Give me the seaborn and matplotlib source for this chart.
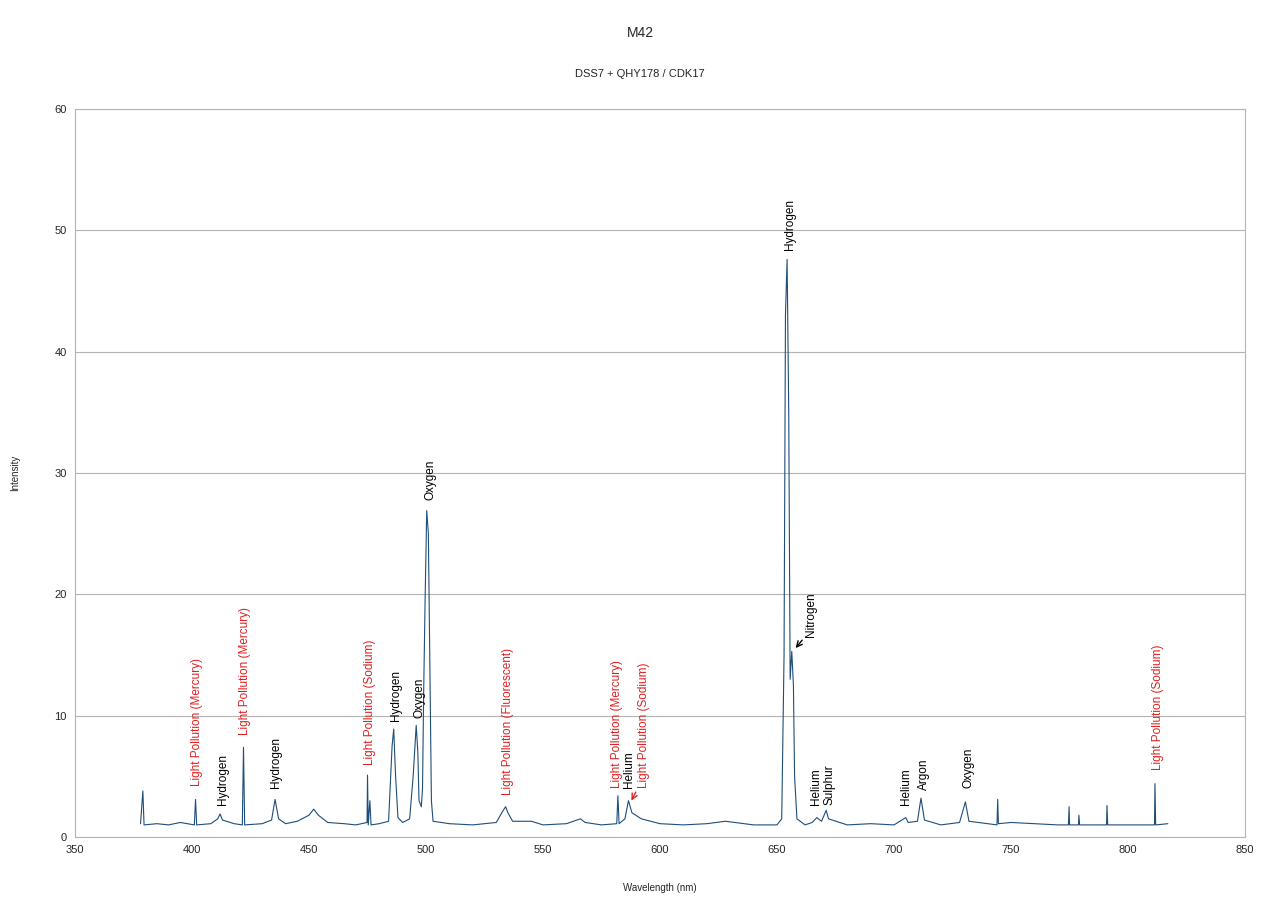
import numpy as np
import pandas as pd
import seaborn as sns
import matplotlib.pyplot as plt

sns.set_style("white")
plt.rcParams['font.family'] = ['Liberation Sans', 'DejaVu Sans']

# spectrum (wavelength nm, intensity)
wavelength = [378, 379, 379.5, 385, 390, 395, 401, 401.5, 402, 408, 411, 412, 413, 418, 421.5, 422, 422.5,
              430, 434, 435.5, 437, 440, 445, 450, 452, 454, 458, 465, 470, 474.8, 475, 475.3, 476, 476.5,
              480, 484, 485.5, 486.2, 487, 488, 490, 493, 494.5, 495.8, 496.5, 497, 498, 498.5, 499, 499.6,
              500.3, 501, 501.6, 502.3, 503, 510, 520, 530, 533, 534, 535, 537, 545, 550, 560, 566, 568,
              575, 581.5, 582, 582.5, 585, 586.5, 588, 592, 600, 610, 620, 628, 640, 650, 652, 653, 653.6,
              654.3, 655, 655.6, 656.3, 657, 657.5, 658.5, 662, 665, 667, 669, 671, 672, 680, 690, 700,
              705, 706, 710, 711.5, 713, 720, 728, 730.5, 732, 740, 744, 744.3, 744.6, 750, 760, 770,
              774.5, 774.8, 775, 778.8, 779, 779.3, 790.8, 791, 791.3, 800, 811.3, 811.5, 811.8, 817]
intensity = [1.1, 3.8, 1.0, 1.1, 1.0, 1.2, 1.0, 3.1, 1.0, 1.1, 1.5, 1.9, 1.4, 1.1, 1.0, 7.4, 1.0,
             1.1, 1.4, 3.1, 1.5, 1.1, 1.3, 1.8, 2.3, 1.8, 1.2, 1.1, 1.0, 1.2, 5.1, 1.0, 3.0, 1.0,
             1.1, 1.3, 7.5, 8.9, 5.0, 1.6, 1.2, 1.5, 5.0, 9.2, 7.0, 3.0, 2.5, 4.0, 12.0, 19.5,
             26.9, 25.0, 15.0, 3.0, 1.3, 1.1, 1.0, 1.2, 2.2, 2.5, 2.0, 1.3, 1.3, 1.0, 1.1, 1.5, 1.2,
             1.0, 1.1, 3.4, 1.1, 1.5, 3.0, 2.0, 1.5, 1.1, 1.0, 1.1, 1.3, 1.0, 1.0, 1.5, 15.0, 43.0,
             47.6, 35.0, 13.0, 15.3, 12.5, 5.0, 1.5, 1.0, 1.2, 1.6, 1.3, 2.2, 1.5, 1.0, 1.1, 1.0,
             1.6, 1.2, 1.3, 3.2, 1.4, 1.0, 1.2, 2.9, 1.3, 1.1, 1.0, 3.1, 1.1, 1.2, 1.1, 1.0,
             1.0, 2.5, 1.0, 1.0, 1.8, 1.0, 1.0, 2.6, 1.0, 1.0, 1.0, 4.4, 1.0, 1.1]

# line labels: text, x, y (bottom of rotated text), is light pollution
label_text = ["Light Pollution (Mercury)", "Hydrogen", "Light Pollution (Mercury)", "Hydrogen",
              "Light Pollution (Sodium)", "Hydrogen", "Oxygen", "Oxygen", "Light Pollution (Fluorescent)",
              "Light Pollution (Mercury)", "Helium", "Light Pollution (Sodium)", "Hydrogen", "Nitrogen",
              "Helium", "Sulphur", "Helium", "Argon", "Oxygen", "Light Pollution (Sodium)"]
label_x = [402.3, 413.4, 422.6, 436.1, 476.2, 487.3, 497.2, 501.9, 535.2, 581.8, 586.9, 593.3,
           655.7, 664.3, 666.8, 672.4, 705.3, 713.0, 731.8, 813.0]
label_y = [4.2, 2.6, 8.4, 4.0, 5.9, 9.6, 9.8, 27.8, 3.5, 4.0, 4.0, 4.0,
           48.4, 16.5, 2.6, 2.6, 2.6, 3.9, 4.0, 5.5]
label_red = [1, 0, 1, 0, 1, 0, 0, 0, 1, 1, 0, 1, 0, 0, 0, 0, 0, 0, 0, 1]

df = pd.DataFrame({"wl": wavelength, "i": intensity})

fig = plt.figure(figsize=(12.8, 9.05), dpi=100)
ax = fig.add_axes([0.0586, 0.0751, 0.9141, 0.8045])
sns.lineplot(data=df, x="wl", y="i", ax=ax, color="#1f4e79", linewidth=0.8)

ax.set_xlim(350, 850)
ax.set_ylim(0, 60)
ax.set_xticks(range(350, 851, 50))
ax.set_yticks(range(0, 61, 10))
ax.grid(axis="y", color="#b3b3b3", linewidth=0.8)
for s in ax.spines.values():
    s.set_color("#b3b3b3")
ax.tick_params(labelsize=8, length=0, pad=6)
ax.set_xlabel("Wavelength (nm)", fontsize=7)
ax.set_ylabel("Intensity", fontsize=7)
ax.xaxis.set_label_coords(0.5, -0.063)
ax.yaxis.set_label_coords(-0.047, 0.5)

for t, x, y, r in zip(label_text, label_x, label_y, label_red):
    ax.text(x, y, t, rotation=90, ha="center", va="bottom", fontsize=8.5,
            color="#e02020" if r else "black")

ax.annotate("", xy=(587.2, 2.8), xytext=(590.2, 3.9),
            arrowprops=dict(arrowstyle="->", color="#e02020", lw=1))
ax.annotate("", xy=(657.2, 15.4), xytext=(661.5, 16.4),
            arrowprops=dict(arrowstyle="->", color="black", lw=1))

fig.text(0.5, 0.963, "M42", ha="center", va="center", fontsize=10)
fig.text(0.5, 0.918, "DSS7 + QHY178 / CDK17", ha="center", va="center", fontsize=8)

fig.savefig("out.png", dpi=100)
